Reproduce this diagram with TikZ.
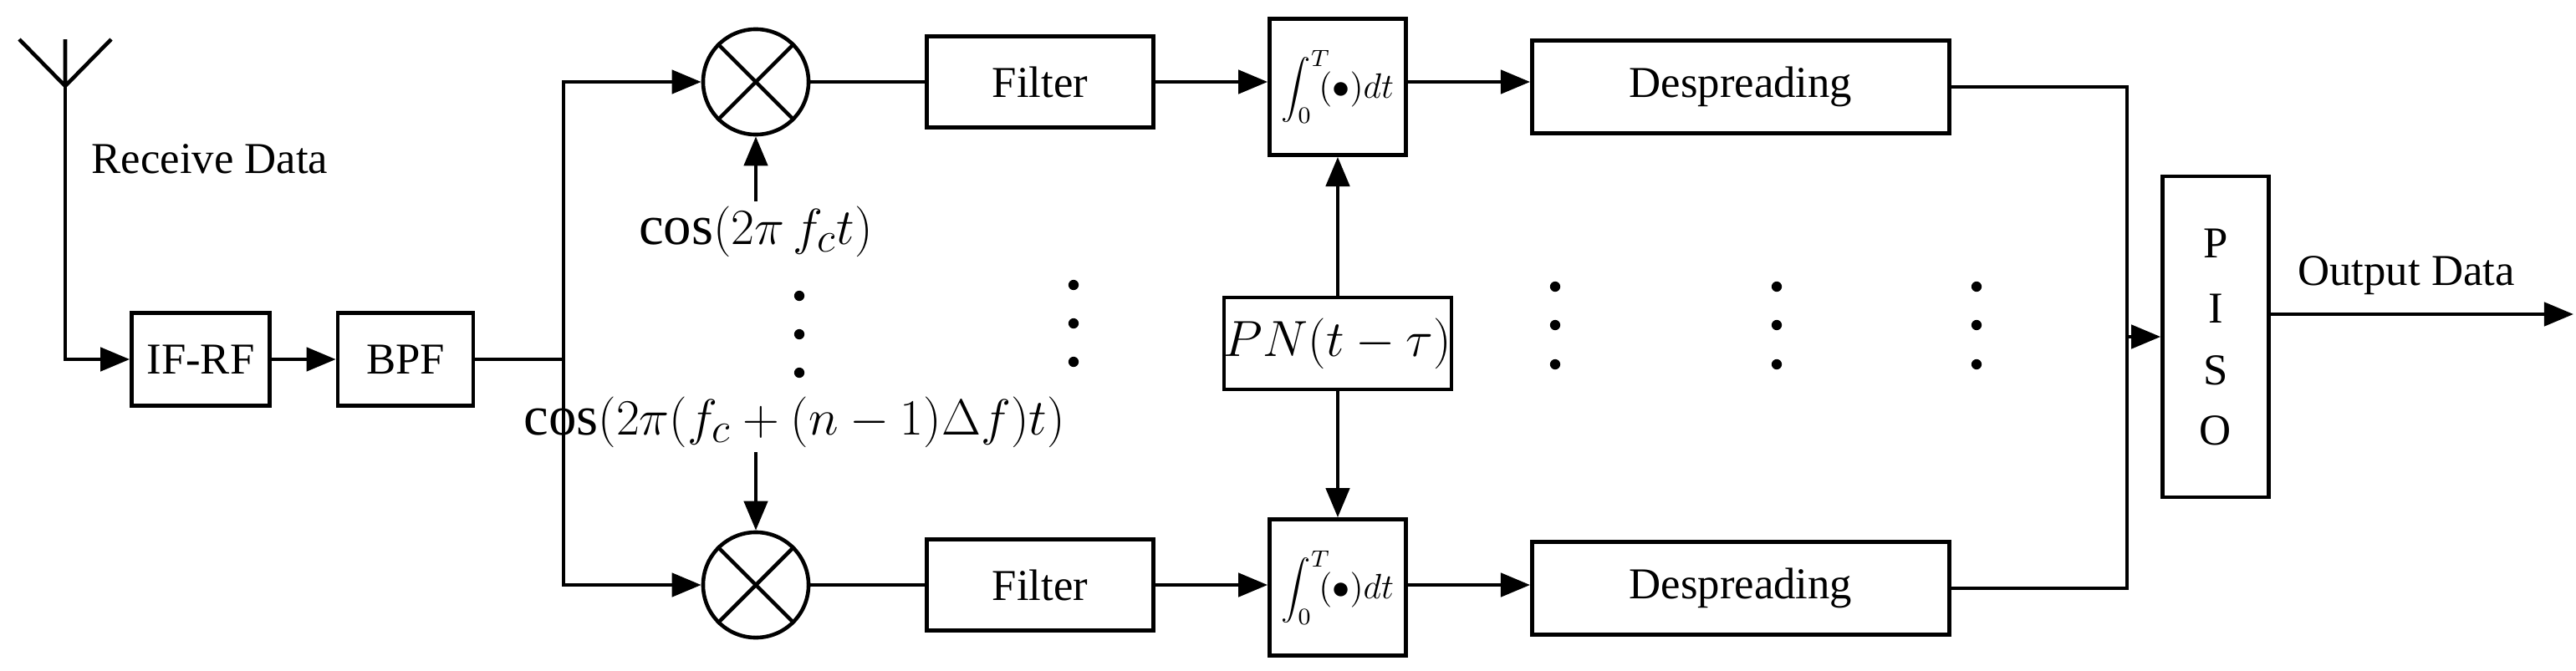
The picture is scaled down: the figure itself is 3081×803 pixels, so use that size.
\documentclass[tikz,border=0pt]{standalone}
\usepackage{fontspec}
\setmainfont{Liberation Serif}
\usetikzlibrary{arrows.meta}
\begin{document}
\begin{tikzpicture}[x=0.01cm,y=-0.01cm,
  line width=1.3pt,
  box/.style={draw,rectangle,inner sep=0pt,font=\fontsize{15}{17}\selectfont},
  mix/.style={draw,circle,minimum size=1.26cm,inner sep=0pt},
  arr/.style={-{Triangle[length=10pt,width=8pt]}},
  thin/.style={line width=1pt},
  lab/.style={font=\fontsize{15}{17}\selectfont},
  cosl/.style={font=\fontsize{19}{21}\selectfont,inner sep=1pt},
  dot/.style={circle,fill,inner sep=0pt,minimum size=3.5pt}]
\useasboundingbox (0,0) rectangle (3081,803);
% antenna
\coordinate (ta) at (78,103);
\draw (23,47) -- (ta) -- (133,47) (78,47) -- (ta);
\node[lab] (rd) at (251,190) {Receive Data};
\node[box,minimum width=1.65cm,minimum height=1.11cm] (ifrf) at (240,430) {IF-RF};
\node[box,minimum width=1.62cm,minimum height=1.11cm] (bpf) at (485,430) {BPF};
\draw[arr] (ta) |- (ifrf.west);
\draw[arr] (ifrf) -- (bpf);
\coordinate (bus) at (674,430);
\draw (bpf) -- (bus);
\node[mix] (m1) at (904,98) {};
\node[mix] (m2) at (904,700) {};
\foreach \m in {m1,m2}{\draw (\m.45) -- (\m.225) (\m.135) -- (\m.315);}
\draw[arr] (bus) |- (m1.west);
\draw[arr] (bus) |- (m2.west);
\node[cosl] (c1) at (904,277) {$\textrm{cos}(2\pi\, f_c t)$};
\node[cosl] (c2) at (950,505) {$\textrm{cos}(2\pi(f_c+(n-1)\Delta f)t)$};
\draw[arr] (c1.north -| m1) -- (m1.south);
\draw[arr] (c2.south -| m2) -- (m2.north);
\node[dot] (d1) at (956,354) {};
\node[dot] (d2) at (956,400) {};
\node[dot] (d3) at (956,446) {};
% filters
\node[box,minimum width=2.71cm,minimum height=1.09cm] (f1) at (1244,98) {Filter};
\node[box,minimum width=2.71cm,minimum height=1.09cm] (f2) at (1244,700) {Filter};
\draw (m1) -- (f1);
\draw (m2) -- (f2);
\foreach \y [count=\i] in {341,387,433}{\node[dot] (fd\i) at (1284,\y) {};}
% integrators
\node[box,minimum width=1.63cm,minimum height=1.63cm] (i1) at (1600,104) {};
\node[box,minimum width=1.63cm,minimum height=1.63cm] (i2) at (1600,703) {};
\node[inner sep=0pt,font=\fontsize{12}{14}\selectfont] (t1) at (i1) {$\displaystyle\int_0^T\!\!(\bullet)dt$};
\node[inner sep=0pt,font=\fontsize{12}{14}\selectfont] (t2) at (i2) {$\displaystyle\int_0^T\!\!(\bullet)dt$};
\draw[arr] (f1.east) -- (i1.west |- f1.east);
\draw[arr] (f2.east) -- (i2.west |- f2.east);
\node[box,minimum width=2.39cm,minimum height=1.1cm,font=\fontsize{19}{21}\selectfont] (pn) at (1600,411) {$PN(t-\tau)$};
\draw[arr] (pn) -- (i1);
\draw[arr] (pn) -- (i2);
% despreading
\node[box,minimum width=4.99cm,minimum height=1.11cm] (s1) at (2082,104) {Despreading};
\node[box,minimum width=4.99cm,minimum height=1.11cm] (s2) at (2082,704) {Despreading};
\draw[arr] (i1.east |- f1.east) -- (s1.west |- f1.east);
\draw[arr] (i2.east |- f2.east) -- (s2.west |- f2.east);
\foreach \x/\n in {1860/a,2125/b,2364/c}{
  \foreach \y [count=\i] in {343,389,436}{\node[dot] (sd\n\i) at (\x,\y) {};}}
% PISO
\node[box,minimum width=1.27cm,minimum height=3.84cm] (piso) at (2650,403) {};
\node[lab] (pp) at (2650,291) {P};
\node[lab] (pi) at (2650,369) {I};
\node[lab] (ps) at (2650,443) {S};
\node[lab] (po) at (2650,515) {O};
\coordinate (j) at (2544,403);
\draw[thin] (s1.east) -| (j);
\draw[thin] (s2.east) -| (j);
\draw[arr] (j) -- (piso.west);
\coordinate (out) at (3078,376);
\draw[arr] (piso.east |- out) -- (out);
\node[lab] (od) at (2878,330) {Output Data};
\end{tikzpicture}
\end{document}
